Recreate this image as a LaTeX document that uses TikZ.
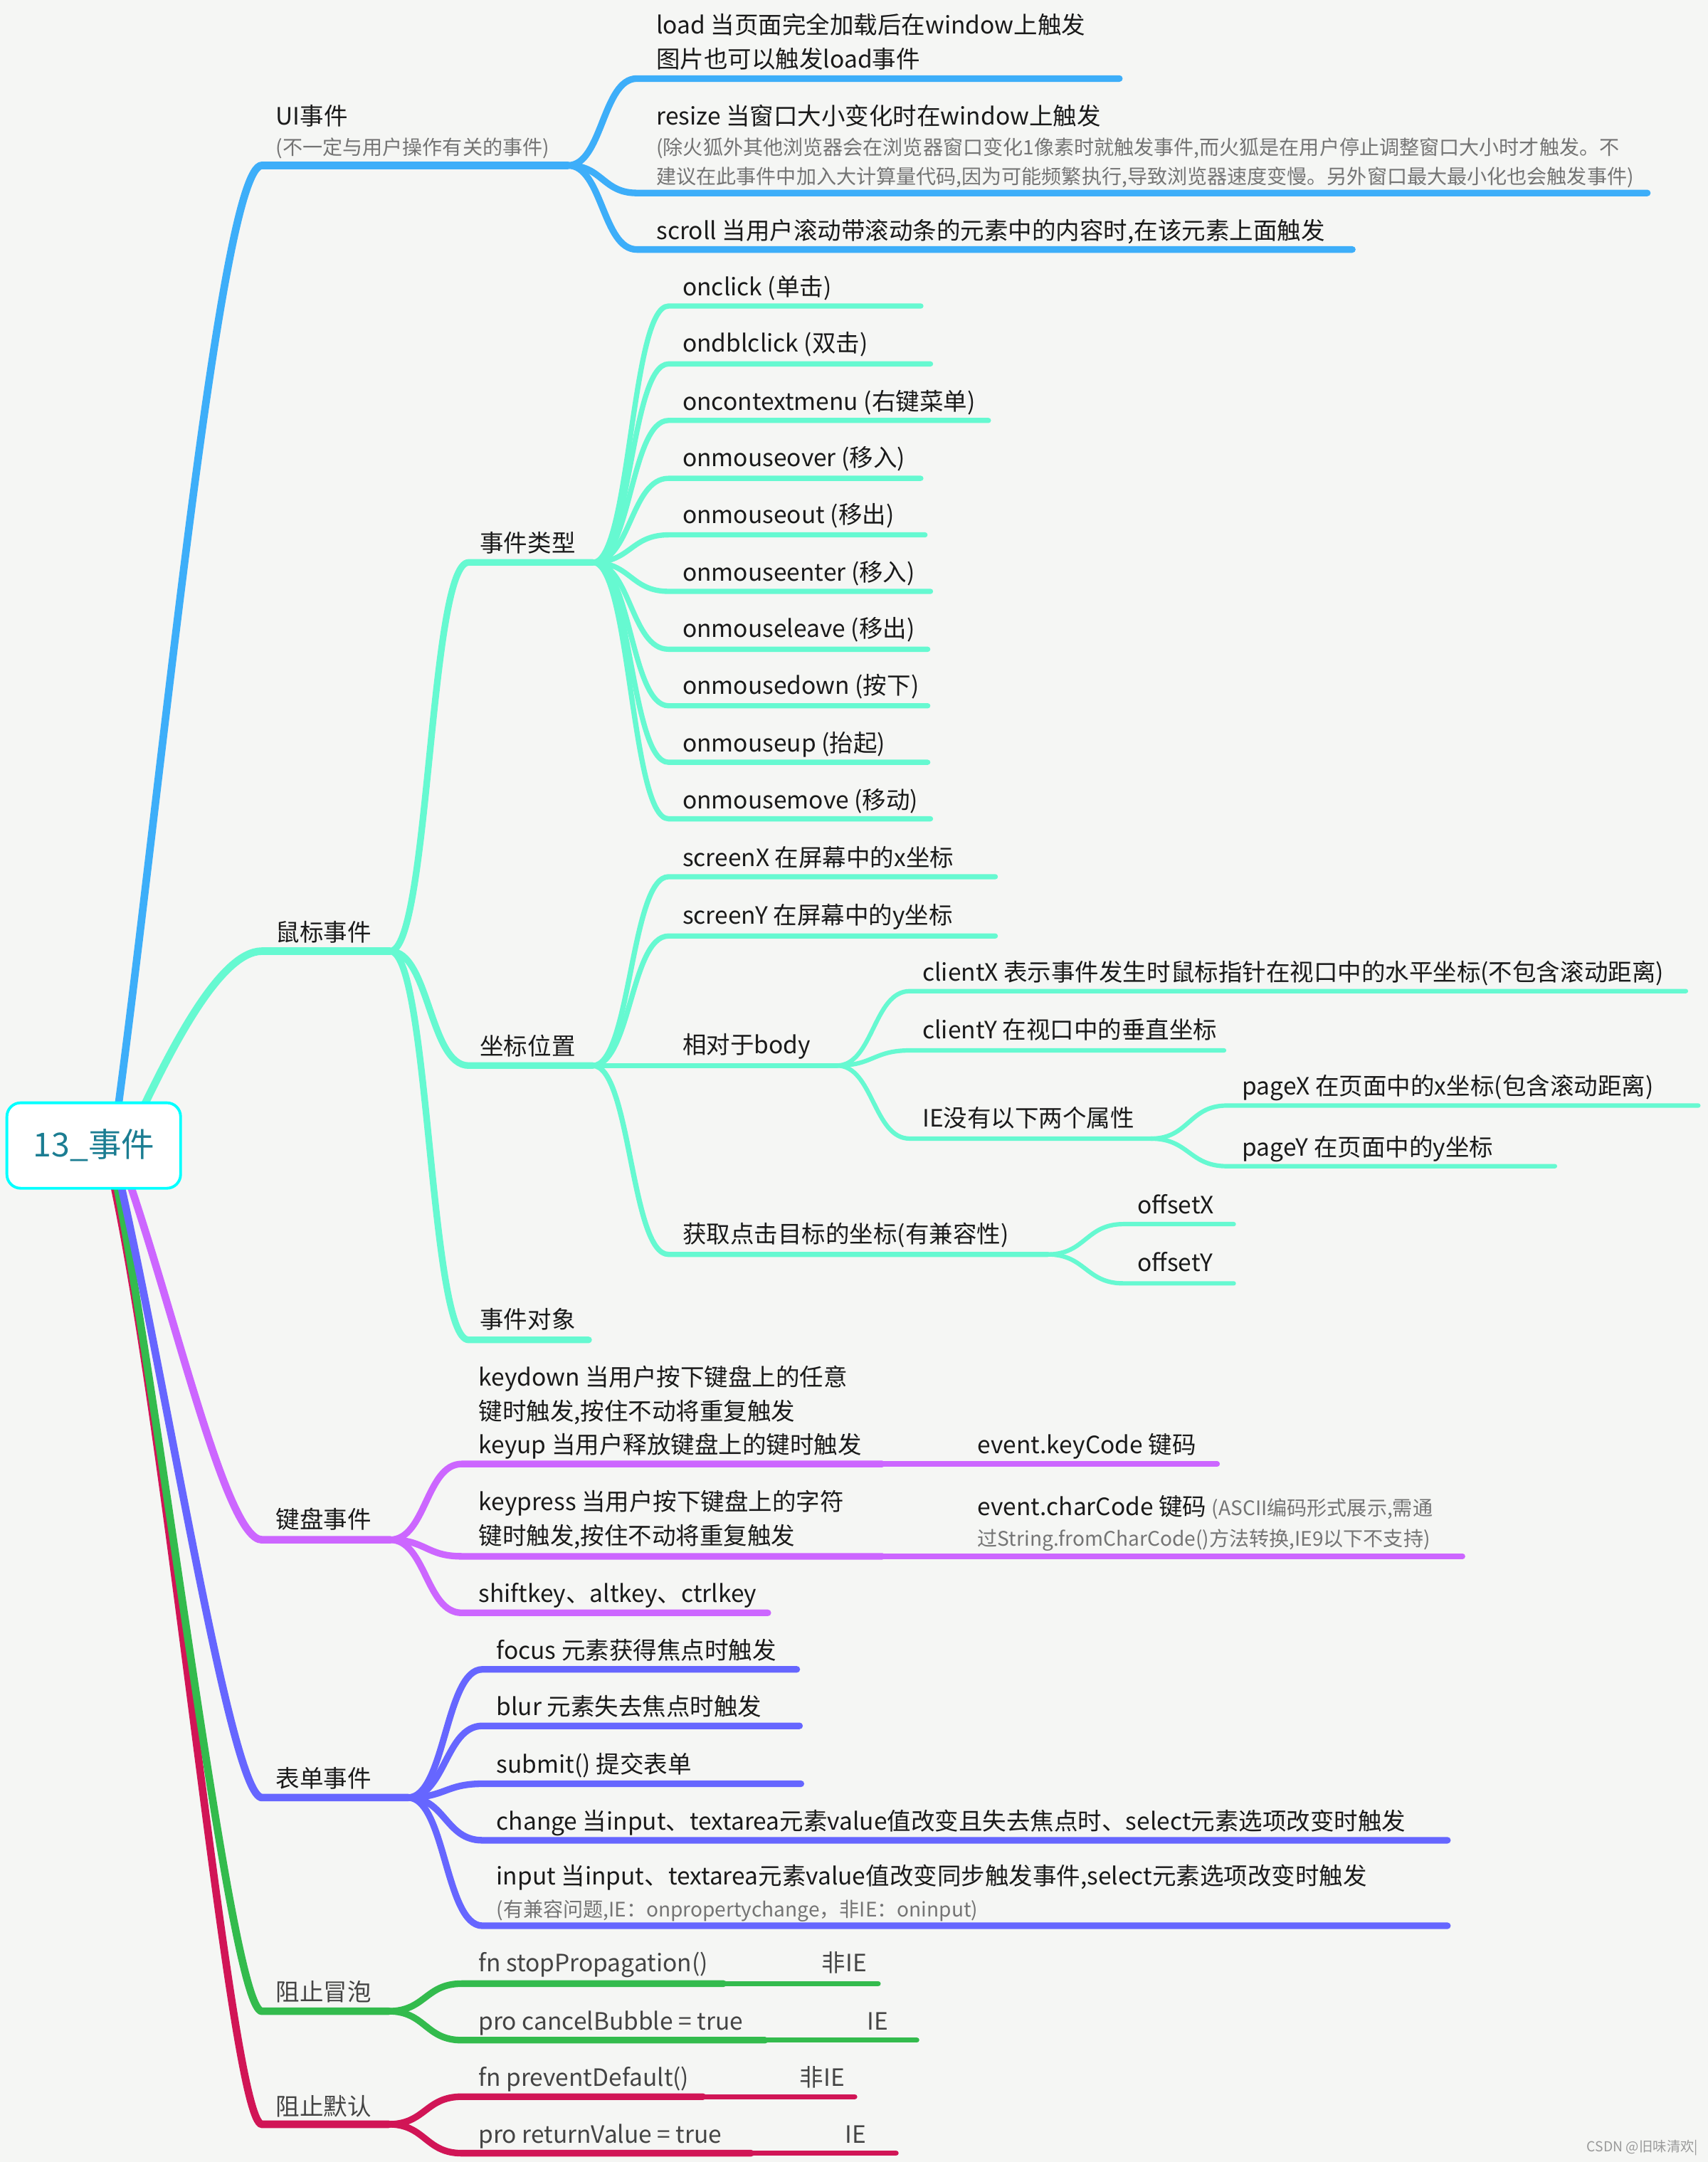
\documentclass[tikz,border=0pt]{standalone}
\usepackage{fontspec}
\setmainfont{Noto Sans CJK SC}
\usetikzlibrary{calc}
\definecolor{bg}{HTML}{F5F6F4}
\definecolor{cblue}{HTML}{3DAEF9}
\definecolor{cmint}{HTML}{66F9D1}
\definecolor{cpurple}{HTML}{CC66FF}
\definecolor{cindigo}{HTML}{6666FF}
\definecolor{cgreen}{HTML}{33BB4D}
\definecolor{cred}{HTML}{D11556}
\definecolor{rootc}{HTML}{00FFFF}
\definecolor{roottxt}{HTML}{1B7D92}
\definecolor{tblack}{HTML}{1A1A1A}
\definecolor{tgray}{HTML}{747474}
\definecolor{tdark}{HTML}{444444}
\definecolor{wmark}{HTML}{9A9A9A}
\newcommand\mmbranch[4]{\draw[#1] let \p1=(#2), \p2=(#3) in (\p1) .. controls ({(\x1+\x2)/2},\y1) and ({(\x1+\x2)/2},\y2) .. (\p2) -- (#4);}
\newcommand\subt[1]{{\fontsize{14.5}{21}\selectfont\color{tgray}#1}}
\begin{document}
\begin{tikzpicture}[x=1pt,y=-1pt,
  txt/.style={inner sep=0pt, anchor=base west, text=tblack, font=\fontsize{17.3}{25}\selectfont, align=left},
  dtxt/.style={txt, text=tdark},
  L1/.style={line width=5.5pt, line cap=round},
  L2/.style={line width=4.8pt, line cap=round},
  L3/.style={line width=3.8pt, line cap=round},
  L4/.style={line width=3.2pt, line cap=round}]
\fill[bg] (0,0) rectangle (1239,1568.4);
\useasboundingbox (0,0) rectangle (1239,1568.4);

% ---------- coordinates ----------
\coordinate (r-ui) at (86,801);
\coordinate (r-ms) at (105,801);
\coordinate (r-kb) at (95,861);
\coordinate (r-fm) at (88,861);
\coordinate (r-mp) at (85,861);
\coordinate (r-md) at (83,861);
% UI
\coordinate (ui-s) at (190,120); \coordinate (ui-j) at (412,120);
\coordinate (load-s) at (462,57); \coordinate (load-e) at (812,57);
\coordinate (rs-s) at (462,140); \coordinate (rs-e) at (1195,140);
\coordinate (sc-s) at (462,181); \coordinate (sc-e) at (981,181);
% mouse
\coordinate (ms-s) at (190,690); \coordinate (ms-j) at (283,690);
\coordinate (lx-s) at (340,408); \coordinate (lx-j) at (430,408);
\coordinate (zb-s) at (340,773); \coordinate (zb-j) at (430,773);
\coordinate (dx-s) at (340,972); \coordinate (dx-e) at (427,972);
\coordinate (i1-s) at (485,222); \coordinate (i1-e) at (668,222);
\coordinate (i2-s) at (485,264); \coordinate (i2-e) at (675,264);
\coordinate (i3-s) at (485,305); \coordinate (i3-e) at (717,305);
\coordinate (i4-s) at (485,347); \coordinate (i4-e) at (668,347);
\coordinate (i5-s) at (485,388); \coordinate (i5-e) at (671,388);
\coordinate (i6-s) at (485,429); \coordinate (i6-e) at (675,429);
\coordinate (i7-s) at (485,471); \coordinate (i7-e) at (673,471);
\coordinate (i8-s) at (485,512); \coordinate (i8-e) at (673,512);
\coordinate (i9-s) at (485,553); \coordinate (i9-e) at (673,553);
\coordinate (i10-s) at (485,594); \coordinate (i10-e) at (675,594);
\coordinate (sx-s) at (485,636); \coordinate (sx-e) at (722,636);
\coordinate (sy-s) at (485,679); \coordinate (sy-e) at (722,679);
\coordinate (rb-j) at (607,773);
\coordinate (hq-s) at (485,910); \coordinate (hq-j) at (760,910);
\coordinate (cx-s) at (660,719); \coordinate (cx-e) at (1223,719);
\coordinate (cy-s) at (660,762); \coordinate (cy-e) at (888,762);
\coordinate (ie-s) at (660,826); \coordinate (ie-j) at (835,826);
\coordinate (px-s) at (890,802); \coordinate (px-e) at (1232,802);
\coordinate (py-s) at (890,846); \coordinate (py-e) at (1128,846);
\coordinate (ox-s) at (815,888); \coordinate (ox-e) at (895,888);
\coordinate (oy-s) at (815,931); \coordinate (oy-e) at (895,931);
% keyboard
\coordinate (kb-s) at (190,1117); \coordinate (kb-j) at (283,1117);
\coordinate (kd-s) at (335,1062); \coordinate (kd-j) at (640,1062); \coordinate (kc-e) at (883,1062);
\coordinate (kp-s) at (335,1129); \coordinate (kp-j) at (640,1129); \coordinate (cc-e) at (1061,1129);
\coordinate (sh-s) at (335,1170); \coordinate (sh-e) at (557,1170);
% form
\coordinate (fm-s) at (190,1304); \coordinate (fm-j) at (296,1304);
\coordinate (fo-s) at (350,1211); \coordinate (fo-e) at (578,1211);
\coordinate (bl-s) at (350,1252); \coordinate (bl-e) at (580,1252);
\coordinate (sb-s) at (350,1294); \coordinate (sb-e) at (581,1294);
\coordinate (ch-s) at (350,1335); \coordinate (ch-e) at (1050,1335);
\coordinate (in-s) at (350,1397); \coordinate (in-e) at (1050,1397);
% bubble
\coordinate (mp-s) at (190,1459); \coordinate (mp-j) at (282,1459);
\coordinate (sp-s) at (335,1439); \coordinate (sp-j) at (525,1439); \coordinate (sp-e) at (637,1439);
\coordinate (cb-s) at (335,1480); \coordinate (cb-j) at (555,1480); \coordinate (cb-e) at (665,1480);
% default
\coordinate (md-s) at (190,1541); \coordinate (md-j) at (282,1541);
\coordinate (pd-s) at (335,1521); \coordinate (pd-j) at (510,1521); \coordinate (pd-e) at (620,1521);
\coordinate (rv-s) at (335,1562); \coordinate (rv-j) at (545,1562); \coordinate (rv-e) at (650,1562);

% ---------- main branches ----------
\draw[L1,cred] (r-md) .. controls (125,1060) and (168,1541) .. (md-s) -- (md-j);
\draw[L1,cgreen] (r-mp) .. controls (120,1045) and (168,1459) .. (mp-s) -- (mp-j);
\draw[L1,cindigo] (r-fm) .. controls (122,1012) and (168,1304) .. (fm-s) -- (fm-j);
\draw[L1,cpurple] (r-kb) .. controls (130,965) and (165,1117) .. (kb-s) -- (kb-j);
\draw[L1,cblue] (r-ui) .. controls (118,560) and (160,120) .. (ui-s) -- (ui-j);
\draw[L1,cmint] (r-ms) .. controls (125,760) and (160,690) .. (ms-s) -- (ms-j);

% ---------- sub branches ----------
\mmbranch{L2,cblue}{ui-j}{load-s}{load-e}
\mmbranch{L2,cblue}{ui-j}{rs-s}{rs-e}
\mmbranch{L2,cblue}{ui-j}{sc-s}{sc-e}

\mmbranch{L2,cmint}{ms-j}{lx-s}{lx-j}
\mmbranch{L2,cmint}{ms-j}{zb-s}{zb-j}
\mmbranch{L2,cmint}{ms-j}{dx-s}{dx-e}
\foreach \i in {1,...,10}{\mmbranch{L3,cmint}{lx-j}{i\i-s}{i\i-e}}
\mmbranch{L3,cmint}{zb-j}{sx-s}{sx-e}
\mmbranch{L3,cmint}{zb-j}{sy-s}{sy-e}
\draw[L3,cmint] (zb-j) -- (rb-j);
\mmbranch{L3,cmint}{zb-j}{hq-s}{hq-j}
\mmbranch{L4,cmint}{rb-j}{cx-s}{cx-e}
\mmbranch{L4,cmint}{rb-j}{cy-s}{cy-e}
\mmbranch{L4,cmint}{rb-j}{ie-s}{ie-j}
\mmbranch{L4,cmint}{ie-j}{px-s}{px-e}
\mmbranch{L4,cmint}{ie-j}{py-s}{py-e}
\mmbranch{L4,cmint}{hq-j}{ox-s}{ox-e}
\mmbranch{L4,cmint}{hq-j}{oy-s}{oy-e}

\mmbranch{L2,cpurple}{kb-j}{kd-s}{kd-j}
\draw[L3,cpurple] (kd-j) -- (kc-e);
\mmbranch{L2,cpurple}{kb-j}{kp-s}{kp-j}
\draw[L3,cpurple] (kp-j) -- (cc-e);
\mmbranch{L2,cpurple}{kb-j}{sh-s}{sh-e}

\mmbranch{L2,cindigo}{fm-j}{fo-s}{fo-e}
\mmbranch{L2,cindigo}{fm-j}{bl-s}{bl-e}
\mmbranch{L2,cindigo}{fm-j}{sb-s}{sb-e}
\mmbranch{L2,cindigo}{fm-j}{ch-s}{ch-e}
\mmbranch{L2,cindigo}{fm-j}{in-s}{in-e}

\mmbranch{L2,cgreen}{mp-j}{sp-s}{sp-j}
\draw[L3,cgreen] (sp-j) -- (sp-e);
\mmbranch{L2,cgreen}{mp-j}{cb-s}{cb-j}
\draw[L3,cgreen] (cb-j) -- (cb-e);

\mmbranch{L2,cred}{md-j}{pd-s}{pd-j}
\draw[L3,cred] (pd-j) -- (pd-e);
\mmbranch{L2,cred}{md-j}{rv-s}{rv-j}
\draw[L3,cred] (rv-j) -- (rv-e);

% ---------- root ----------
\node[draw=rootc, line width=2pt, fill=white, rounded corners=10pt, minimum width=126pt, minimum height=62pt, inner sep=0pt, text=roottxt, font=\fontsize{24}{28}\selectfont] (root) at (68,831) {13\_事件};

% ---------- texts ----------
\node[txt] (t-ui) at (200,112.5) {UI事件\\[-3pt]\subt{(不一定与用户操作有关的事件)}};
\node[txt] (t-load) at (476,49.5) {load 当页面完全加载后在window上触发\\图片也可以触发load事件};
\node[txt] (t-rs) at (476,133.5) {resize 当窗口大小变化时在window上触发\\[-3pt]\subt{(除火狐外其他浏览器会在浏览器窗口变化1像素时就触发事件,而火狐是在用户停止调整窗口大小时才触发。不}\\[-4pt]\subt{建议在此事件中加入大计算量代码,因为可能频繁执行,导致浏览器速度变慢。另外窗口最大最小化也会触发事件)}};
\node[txt] (t-sc) at (476,173.5) {scroll 当用户滚动带滚动条的元素中的内容时,在该元素上面触发};

\node[txt] (t-ms) at (200,682.5) {鼠标事件};
\node[txt] (t-lx) at (348,400.5) {事件类型};
\node[txt] (t-zb) at (348,765.5) {坐标位置};
\node[txt] (t-dx) at (348,963.5) {事件对象};
\node[txt] (t-i1) at (495,214.5) {onclick (单击)};
\node[txt] (t-i2) at (495,255.5) {ondblclick (双击)};
\node[txt] (t-i3) at (495,297.5) {oncontextmenu (右键菜单)};
\node[txt] (t-i4) at (495,338.5) {onmouseover (移入)};
\node[txt] (t-i5) at (495,379.5) {onmouseout (移出)};
\node[txt] (t-i6) at (495,421.5) {onmouseenter (移入)};
\node[txt] (t-i7) at (495,462.5) {onmouseleave (移出)};
\node[txt] (t-i8) at (495,503.5) {onmousedown (按下)};
\node[txt] (t-i9) at (495,545.5) {onmouseup (抬起)};
\node[txt] (t-i10) at (495,586.5) {onmousemove (移动)};
\node[txt] (t-sx) at (495,628.5) {screenX 在屏幕中的x坐标};
\node[txt] (t-sy) at (495,670.5) {screenY 在屏幕中的y坐标};
\node[txt] (t-rb) at (495,764.5) {相对于body};
\node[txt] (t-hq) at (495,901.5) {获取点击目标的坐标(有兼容性)};
\node[txt] (t-cx) at (669,711.5) {clientX 表示事件发生时鼠标指针在视口中的水平坐标(不包含滚动距离)};
\node[txt] (t-cy) at (669,753.5) {clientY 在视口中的垂直坐标};
\node[txt] (t-ie) at (669,817.5) {IE没有以下两个属性};
\node[txt] (t-px) at (901,794.5) {pageX 在页面中的x坐标(包含滚动距离)};
\node[txt] (t-py) at (901,838.5) {pageY 在页面中的y坐标};
\node[txt] (t-ox) at (825,880.5) {offsetX};
\node[txt] (t-oy) at (825,922.5) {offsetY};

\node[txt] (t-kb) at (200,1108.5) {键盘事件};
\node[txt, font=\fontsize{17.3}{24.5}\selectfont] (t-kd) at (347,1054.5) {keydown 当用户按下键盘上的任意\\键时触发,按住不动将重复触发\\keyup 当用户释放键盘上的键时触发};
\node[txt] (t-kc) at (709,1054.5) {event.keyCode 键码};
\node[txt, font=\fontsize{17.3}{24.5}\selectfont] (t-kp) at (347,1120.5) {keypress 当用户按下键盘上的字符\\键时触发,按住不动将重复触发};
\node[txt] (t-cc) at (709,1121.5) {event.charCode 键码 \subt{(ASCII编码形式展示,需通}\\[-3pt]\subt{过String.fromCharCode()方法转换,IE9以下不支持)}};
\node[txt] (t-sh) at (347,1162.5) {shiftkey、altkey、ctrlkey};

\node[txt] (t-fm) at (200,1296.5) {表单事件};
\node[txt] (t-fo) at (360,1203.5) {focus 元素获得焦点时触发};
\node[txt] (t-bl) at (360,1244.5) {blur 元素失去焦点时触发};
\node[txt] (t-sb) at (360,1286.5) {submit() 提交表单};
\node[txt] (t-ch) at (360,1327.5) {change 当input、textarea元素value值改变且失去焦点时、select元素选项改变时触发};
\node[txt] (t-in) at (360,1390.5) {input 当input、textarea元素value值改变同步触发事件,select元素选项改变时触发\\[-2pt]\subt{(有兼容问题,IE：onpropertychange，非IE：oninput)}};

\node[dtxt] (t-mp) at (200,1451.5) {阻止冒泡};
\node[dtxt] (t-sp) at (347,1430.5) {fn stopPropagation()};
\node[dtxt] (t-sp2) at (596,1430.5) {非IE};
\node[dtxt] (t-cb) at (347,1472.5) {pro cancelBubble = true};
\node[dtxt] (t-cb2) at (629,1472.5) {IE};

\node[dtxt] (t-md) at (200,1534.5) {阻止默认};
\node[dtxt] (t-pd) at (347,1513.5) {fn preventDefault()};
\node[dtxt] (t-pd2) at (580,1513.5) {非IE};
\node[dtxt] (t-rv) at (347,1554.5) {pro returnValue = true};
\node[dtxt] (t-rv2) at (613,1554.5) {IE};

\node[inner sep=0pt, anchor=base east, text=wmark, font=\fontsize{10}{12}\selectfont] (wm) at (1232,1561) {CSDN @旧味清欢|};
\end{tikzpicture}
\end{document}
